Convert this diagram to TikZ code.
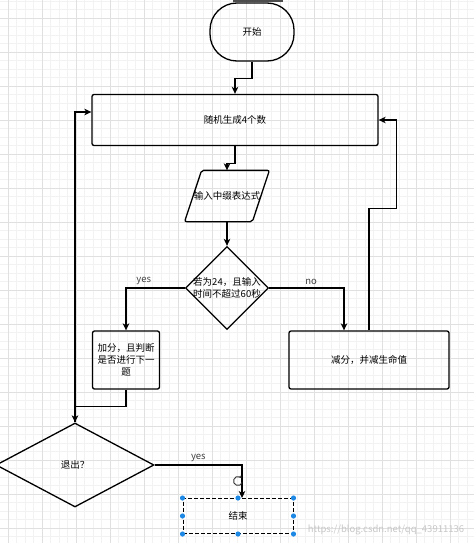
\documentclass[tikz,border=0pt]{standalone}
\usepackage{fontspec}
\setmainfont{Noto Sans CJK SC}
\usetikzlibrary{shapes.geometric,arrows.meta,positioning}
\definecolor{gridminor}{RGB}{242,242,242}
\definecolor{gridmajor}{RGB}{224,224,224}
\definecolor{handleblue}{RGB}{30,136,229}
\tikzset{
  proc/.style={draw,rectangle,rounded corners=2pt,align=center,inner sep=1pt},
  decision/.style={draw,diamond,inner sep=0pt},
  arr/.style={-{Stealth[length=7pt,width=6.5pt,inset=2pt]}},
  lbl/.style={text=black!75,inner sep=1pt}
}
\begin{document}
\begin{tikzpicture}
  [x=1pt,y=-1pt,line width=1.3pt,
   every node/.style={font=\fontsize{9.5}{12}\selectfont}]
  \useasboundingbox (0,0) rectangle (474,543);
  % grid
  \foreach \k in {-1,...,56}
    \draw[gridminor,line width=0.5pt] ({8+\k*8.5},0) -- ({8+\k*8.5},543);
  \foreach \k in {-3,...,62}
    \draw[gridminor,line width=0.5pt] (0,{18+\k*8.5}) -- (474,{18+\k*8.5});
  \foreach \k in {0,...,13}
    \draw[gridmajor,line width=0.5pt] ({8+\k*34},0) -- ({8+\k*34},543);
  \foreach \k in {-1,...,15}
    \draw[gridmajor,line width=0.5pt] (0,{18+\k*34}) -- (474,{18+\k*34});
  \fill[black!70] (233,0) rectangle (283,2);

  \node[proc,rounded corners=27pt,minimum width=84pt,minimum height=58pt] (start) at (252,32) {开始};
  \node[proc,minimum width=286pt,minimum height=51pt] (gen) at (235,120) {随机生成4个数};
  \node[inner sep=0pt,minimum width=66pt,minimum height=50pt] (input) at (227,196) {输入中缀表达式};
  \draw[rounded corners=2pt] ([xshift=-8.5pt]input.south west) -- ([xshift=8.5pt]input.north west)
    -- ([xshift=8.5pt]input.north east) -- ([xshift=-8.5pt]input.south east) -- cycle;
  \node[decision,minimum width=83pt,minimum height=83pt,
    label={[align=center]center:若为24，且输入\\时间不超过60秒}] (check) at (227,288) {};
  \node[proc,minimum width=67pt,minimum height=58pt] (plus) at (126,360) {加分，且判断\\是否进行下一\\题};
  \node[proc,minimum width=160pt,minimum height=58pt] (minus) at (369,360) {减分，并减生命值};
  \node[decision,minimum width=158pt,minimum height=84pt] (quit) at (75,465) {退出？};
  \node[draw,rectangle,minimum width=110pt,minimum height=35pt,line width=1pt,
    dash pattern=on 4pt off 2pt] (end) at (238,516) {结束};

  \draw[arr] (start.south) -- ++(0,17) -| (gen.north);
  \draw[arr] (gen.south) -- ++(0,17) -| (input.north);
  \draw[arr] (input.south) -- (check.north);
  \draw[arr] (check.west) -| node[lbl,above=2pt,pos=0.35] {yes} (plus.north);
  \draw[arr] (check.east) -| node[lbl,above=2pt,pos=0.28] {no} ([xshift=-25pt]minus.north);
  \draw[arr] (minus.north) -- ++(0,-122) -| ([xshift=18pt]gen.east) -- (gen.east);
  \draw[arr] (plus.south) -- ++(0,17) -| (quit.north);
  \draw[arr] (quit.north) |- ([yshift=8pt]gen.west);
  \draw[arr] (quit.east) -| node[lbl,above=2pt,pos=0.25] {yes} ([xshift=4pt]end.north);

  % selection handles
  \draw[black!80,line width=0.9pt,-{Stealth[length=2.5pt,width=3pt]}] (238,481) ++(20:4.5) arc (20:320:4.5);
  \foreach \a in {north west,north,north east,east,south east,south,south west,west}
    \fill[handleblue] (end.\a) circle (2.6pt);
  \node[text=black!22,font=\fontsize{9.5}{11}\selectfont] (mark) at (386,530) {https://blog.csdn.net/qq\_43911136};
\end{tikzpicture}
\end{document}
